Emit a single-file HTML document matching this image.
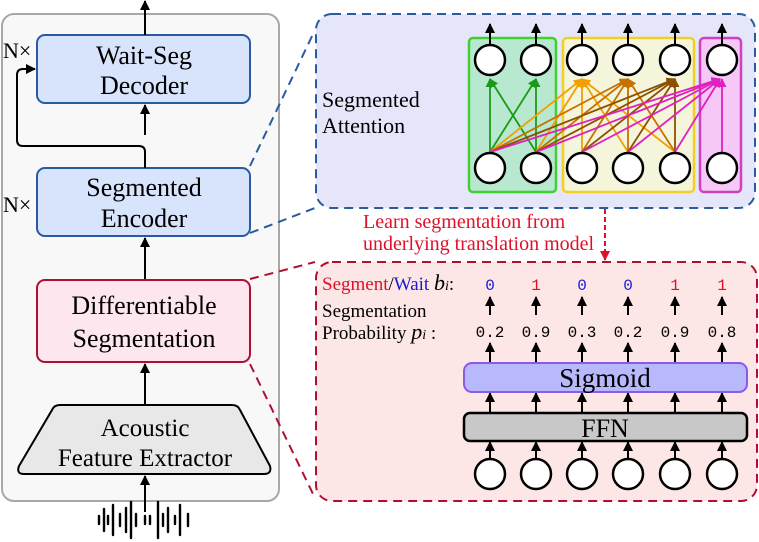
<!DOCTYPE html>
<html><head><meta charset="utf-8"><style>
html,body{margin:0;padding:0;background:#fff}
svg{display:block}
</style></head><body>
<svg width="759" height="542" viewBox="0 0 759 542" xmlns="http://www.w3.org/2000/svg" font-family="'Liberation Serif', serif">
<defs>
<marker id="ah" viewBox="0 0 10 10" refX="9" refY="5" markerWidth="5" markerHeight="5" orient="auto"><path d="M0,0 L10,5 L0,10 z" fill="#000"/></marker>
<marker id="ar" viewBox="0 0 10 10" refX="9" refY="5" markerWidth="5" markerHeight="5" orient="auto"><path d="M0,0 L10,5 L0,10 z" fill="#e0102a"/></marker>
<marker id="ag" viewBox="0 0 10 10" refX="9" refY="5" markerWidth="5" markerHeight="5" orient="auto"><path d="M0,0 L10,5 L0,10 z" fill="#1a9a1a"/></marker>
<marker id="ao" viewBox="0 0 10 10" refX="9" refY="5" markerWidth="5" markerHeight="5" orient="auto"><path d="M0,0 L10,5 L0,10 z" fill="#f0a000"/></marker>
<marker id="ao2" viewBox="0 0 10 10" refX="9" refY="5" markerWidth="5" markerHeight="5" orient="auto"><path d="M0,0 L10,5 L0,10 z" fill="#c87000"/></marker>
<marker id="ab" viewBox="0 0 10 10" refX="9" refY="5" markerWidth="5" markerHeight="5" orient="auto"><path d="M0,0 L10,5 L0,10 z" fill="#8b5000"/></marker>
<marker id="am" viewBox="0 0 10 10" refX="9" refY="5" markerWidth="5" markerHeight="5" orient="auto"><path d="M0,0 L10,5 L0,10 z" fill="#e020c0"/></marker>
</defs>

<rect x="2" y="14" width="277" height="487" rx="12" fill="#f8f8f8" stroke="#a8a8a8" stroke-width="2"/>

<g fill="none" stroke-width="2" stroke-dasharray="9,6">
<line x1="250" y1="166" x2="314" y2="32" stroke="#2a5aa0"/>
<line x1="250" y1="233" x2="315" y2="208" stroke="#2a5aa0"/>
<line x1="250" y1="279" x2="315" y2="262" stroke="#b01030"/>
<line x1="250" y1="364" x2="314" y2="496" stroke="#b01030"/>
</g>

<rect x="316" y="14" width="439" height="194" rx="16" fill="#e6e6fb" stroke="#2a5aa0" stroke-width="2" stroke-dasharray="9,6"/>
<rect x="316" y="262" width="441" height="239" rx="16" fill="#fde6e6" stroke="#b01030" stroke-width="2" stroke-dasharray="9,6"/>

<rect x="37" y="35" width="213" height="68" rx="8" fill="#d8e4fc" stroke="#2a5aa0" stroke-width="2"/>
<text x="144" y="64" font-size="26" text-anchor="middle">Wait-Seg</text>
<text x="144" y="94" font-size="26" text-anchor="middle">Decoder</text>
<rect x="37" y="168" width="213" height="68" rx="8" fill="#d8e4fc" stroke="#2a5aa0" stroke-width="2"/>
<text x="144" y="196" font-size="26" text-anchor="middle">Segmented</text>
<text x="144" y="227" font-size="26" text-anchor="middle">Encoder</text>
<rect x="37" y="280" width="213" height="82" rx="8" fill="#fde6ee" stroke="#b01030" stroke-width="2"/>
<text x="144" y="314" font-size="26" text-anchor="middle">Differentiable</text>
<text x="144" y="347" font-size="26" text-anchor="middle">Segmentation</text>
<path d="M60,405 L232,405 Q238,405 240,410 L270,466 Q272,474 264,474 L24,474 Q16,474 19,466 L52,410 Q54,405 60,405 Z" fill="#e8e8e8" stroke="#000" stroke-width="2"/>
<text x="145" y="436" font-size="25" text-anchor="middle">Acoustic</text>
<text x="145" y="466" font-size="25" text-anchor="middle">Feature Extractor</text>
<text x="3" y="58" font-size="22">N×</text>
<text x="3" y="212" font-size="22">N×</text>

<g stroke="#000" stroke-width="2" fill="none" marker-end="url(#ah)">
<line x1="145" y1="35" x2="145" y2="1"/>
<line x1="145" y1="135" x2="145" y2="105"/>
<path d="M145,168 L145,152 Q145,146 139,146 L23,146 Q17,146 17,140 L17,75 Q17,69 23,69 L35,69"/>
<line x1="145" y1="279" x2="145" y2="238"/>
<line x1="145" y1="404" x2="145" y2="364"/>
<line x1="145" y1="512" x2="145" y2="476"/>
</g>
<g stroke="#000" stroke-width="2.4" stroke-linecap="round">
<line x1="99" y1="516" x2="99" y2="524"/>
<line x1="104" y1="509" x2="104" y2="531"/>
<line x1="108" y1="516" x2="108" y2="524"/>
<line x1="113" y1="505" x2="113" y2="535"/>
<line x1="120" y1="514" x2="120" y2="526"/>
<line x1="126" y1="508" x2="126" y2="532"/>
<line x1="131" y1="502" x2="131" y2="538"/>
<line x1="136" y1="514" x2="136" y2="526"/>
<line x1="145" y1="516" x2="145" y2="524"/>
<line x1="150" y1="516" x2="150" y2="524"/>
<line x1="158" y1="502" x2="158" y2="538"/>
<line x1="163" y1="514" x2="163" y2="526"/>
<line x1="168" y1="508" x2="168" y2="532"/>
<line x1="175" y1="516" x2="175" y2="524"/>
<line x1="180" y1="505" x2="180" y2="535"/>
<line x1="188" y1="514" x2="188" y2="526"/>
</g>

<text x="322" y="107" font-size="22">Segmented</text>
<text x="322" y="133" font-size="22">Attention</text>
<rect x="469" y="38" width="87" height="154" rx="4" fill="#b8e8d0" stroke="#40d030" stroke-width="2.5"/>
<rect x="563" y="38" width="131" height="154" rx="4" fill="#f5f5dc" stroke="#f0d020" stroke-width="2.5"/>
<rect x="700" y="38" width="41" height="154" rx="4" fill="#f5c8f5" stroke="#d040c0" stroke-width="2.5"/>

<g stroke-width="1.8" fill="none">
<g stroke="#1a9a1a" marker-end="url(#ag)">
<line x1="490" y1="152" x2="490" y2="79"/><line x1="536" y1="152" x2="490" y2="79"/>
<line x1="490" y1="152" x2="536" y2="79"/><line x1="536" y1="152" x2="536" y2="79"/>
</g>
<g stroke="#f0a000" marker-end="url(#ao)">
<line x1="490" y1="152" x2="582" y2="79"/><line x1="536" y1="152" x2="582" y2="79"/><line x1="582" y1="152" x2="582" y2="79"/><line x1="628" y1="152" x2="582" y2="79"/><line x1="675" y1="152" x2="582" y2="79"/>
</g>
<g stroke="#c87000" marker-end="url(#ao2)">
<line x1="490" y1="152" x2="628" y2="79"/><line x1="536" y1="152" x2="628" y2="79"/><line x1="582" y1="152" x2="628" y2="79"/><line x1="628" y1="152" x2="628" y2="79"/><line x1="675" y1="152" x2="628" y2="79"/>
</g>
<g stroke="#8b5000" marker-end="url(#ab)">
<line x1="490" y1="152" x2="675" y2="79"/><line x1="536" y1="152" x2="675" y2="79"/><line x1="582" y1="152" x2="675" y2="79"/><line x1="628" y1="152" x2="675" y2="79"/><line x1="675" y1="152" x2="675" y2="79"/>
</g>
<g stroke="#e020c0" marker-end="url(#am)">
<line x1="490" y1="152" x2="720" y2="79"/><line x1="536" y1="152" x2="720" y2="79"/><line x1="582" y1="152" x2="720" y2="79"/><line x1="628" y1="152" x2="720" y2="79"/><line x1="675" y1="152" x2="720" y2="79"/><line x1="722" y1="152" x2="722" y2="79"/>
</g>
</g>
<g stroke="#000" stroke-width="2" marker-end="url(#ah)">
<line x1="490" y1="44" x2="490" y2="24"/><line x1="536" y1="44" x2="536" y2="24"/><line x1="582" y1="44" x2="582" y2="24"/><line x1="628" y1="44" x2="628" y2="24"/><line x1="675" y1="44" x2="675" y2="24"/><line x1="722" y1="44" x2="722" y2="24"/>
</g>
<g fill="#fff" stroke="#000" stroke-width="2.5">
<circle cx="490" cy="60" r="15"/><circle cx="536" cy="60" r="15"/><circle cx="582" cy="60" r="15"/><circle cx="628" cy="60" r="15"/><circle cx="675" cy="60" r="15"/><circle cx="722" cy="60" r="15"/>
<circle cx="490" cy="168" r="15"/><circle cx="536" cy="168" r="15"/><circle cx="582" cy="168" r="15"/><circle cx="628" cy="168" r="15"/><circle cx="675" cy="168" r="15"/><circle cx="722" cy="168" r="15"/>
</g>

<text x="363" y="228" font-size="20" fill="#e0102a">Learn segmentation from</text>
<text x="363" y="250" font-size="20" fill="#e0102a">underlying translation model</text>
<line x1="605" y1="209" x2="605" y2="260" stroke="#e0102a" stroke-width="2" stroke-dasharray="5,3" marker-end="url(#ar)"/>

<text x="322" y="290" font-size="19"><tspan fill="#e0102a">Segment</tspan>/<tspan fill="#1a1ad0">Wait</tspan> <tspan font-style="italic" font-size="22">b</tspan><tspan font-style="italic" font-size="14">i</tspan>:</text>
<text x="322" y="317" font-size="19">Segmentation</text>
<text x="322" y="339" font-size="19">Probability <tspan font-style="italic" font-size="22">p</tspan><tspan font-style="italic" font-size="14">i</tspan> :</text>
<g font-size="16" text-anchor="middle">
<text x="490" y="290" font-family="'Liberation Mono', monospace" fill="#1a1ad0">0</text><text x="536" y="290" font-family="'Liberation Mono', monospace" fill="#e0102a">1</text><text x="582" y="290" font-family="'Liberation Mono', monospace" fill="#1a1ad0">0</text><text x="628" y="290" font-family="'Liberation Mono', monospace" fill="#1a1ad0">0</text><text x="675" y="290" font-family="'Liberation Mono', monospace" fill="#e0102a">1</text><text x="722" y="290" font-family="'Liberation Mono', monospace" fill="#e0102a">1</text>
<text x="490" y="337" font-family="'Liberation Mono', monospace">0.2</text><text x="536" y="337" font-family="'Liberation Mono', monospace">0.9</text><text x="582" y="337" font-family="'Liberation Mono', monospace">0.3</text><text x="628" y="337" font-family="'Liberation Mono', monospace">0.2</text><text x="675" y="337" font-family="'Liberation Mono', monospace">0.9</text><text x="722" y="337" font-family="'Liberation Mono', monospace">0.8</text>
</g>
<g stroke="#000" stroke-width="2" marker-end="url(#ah)">
<line x1="490" y1="315" x2="490" y2="297"/><line x1="536" y1="315" x2="536" y2="297"/><line x1="582" y1="315" x2="582" y2="297"/><line x1="628" y1="315" x2="628" y2="297"/><line x1="675" y1="315" x2="675" y2="297"/><line x1="722" y1="315" x2="722" y2="297"/>
<line x1="490" y1="362" x2="490" y2="343"/><line x1="536" y1="362" x2="536" y2="343"/><line x1="582" y1="362" x2="582" y2="343"/><line x1="628" y1="362" x2="628" y2="343"/><line x1="675" y1="362" x2="675" y2="343"/><line x1="722" y1="362" x2="722" y2="343"/>
<line x1="490" y1="412" x2="490" y2="393"/><line x1="536" y1="412" x2="536" y2="393"/><line x1="582" y1="412" x2="582" y2="393"/><line x1="628" y1="412" x2="628" y2="393"/><line x1="675" y1="412" x2="675" y2="393"/><line x1="722" y1="412" x2="722" y2="393"/>
<line x1="490" y1="459" x2="490" y2="442"/><line x1="536" y1="459" x2="536" y2="442"/><line x1="582" y1="459" x2="582" y2="442"/><line x1="628" y1="459" x2="628" y2="442"/><line x1="675" y1="459" x2="675" y2="442"/><line x1="722" y1="459" x2="722" y2="442"/>
</g>
<rect x="464" y="363" width="283" height="29" rx="8" fill="#b8b8fc" stroke="#8a5ae8" stroke-width="2"/>
<text x="605" y="387" font-size="27" text-anchor="middle">Sigmoid</text>
<rect x="464" y="413" width="283" height="28" rx="6" fill="#c8c8c8" stroke="#000" stroke-width="2.5"/>
<text x="605" y="437" font-size="26" text-anchor="middle">FFN</text>
<g fill="#fff" stroke="#000" stroke-width="2.5">
<circle cx="490" cy="474" r="15"/><circle cx="536" cy="474" r="15"/><circle cx="582" cy="474" r="15"/><circle cx="628" cy="474" r="15"/><circle cx="675" cy="474" r="15"/><circle cx="722" cy="474" r="15"/>
</g>
</svg>
</body></html>
